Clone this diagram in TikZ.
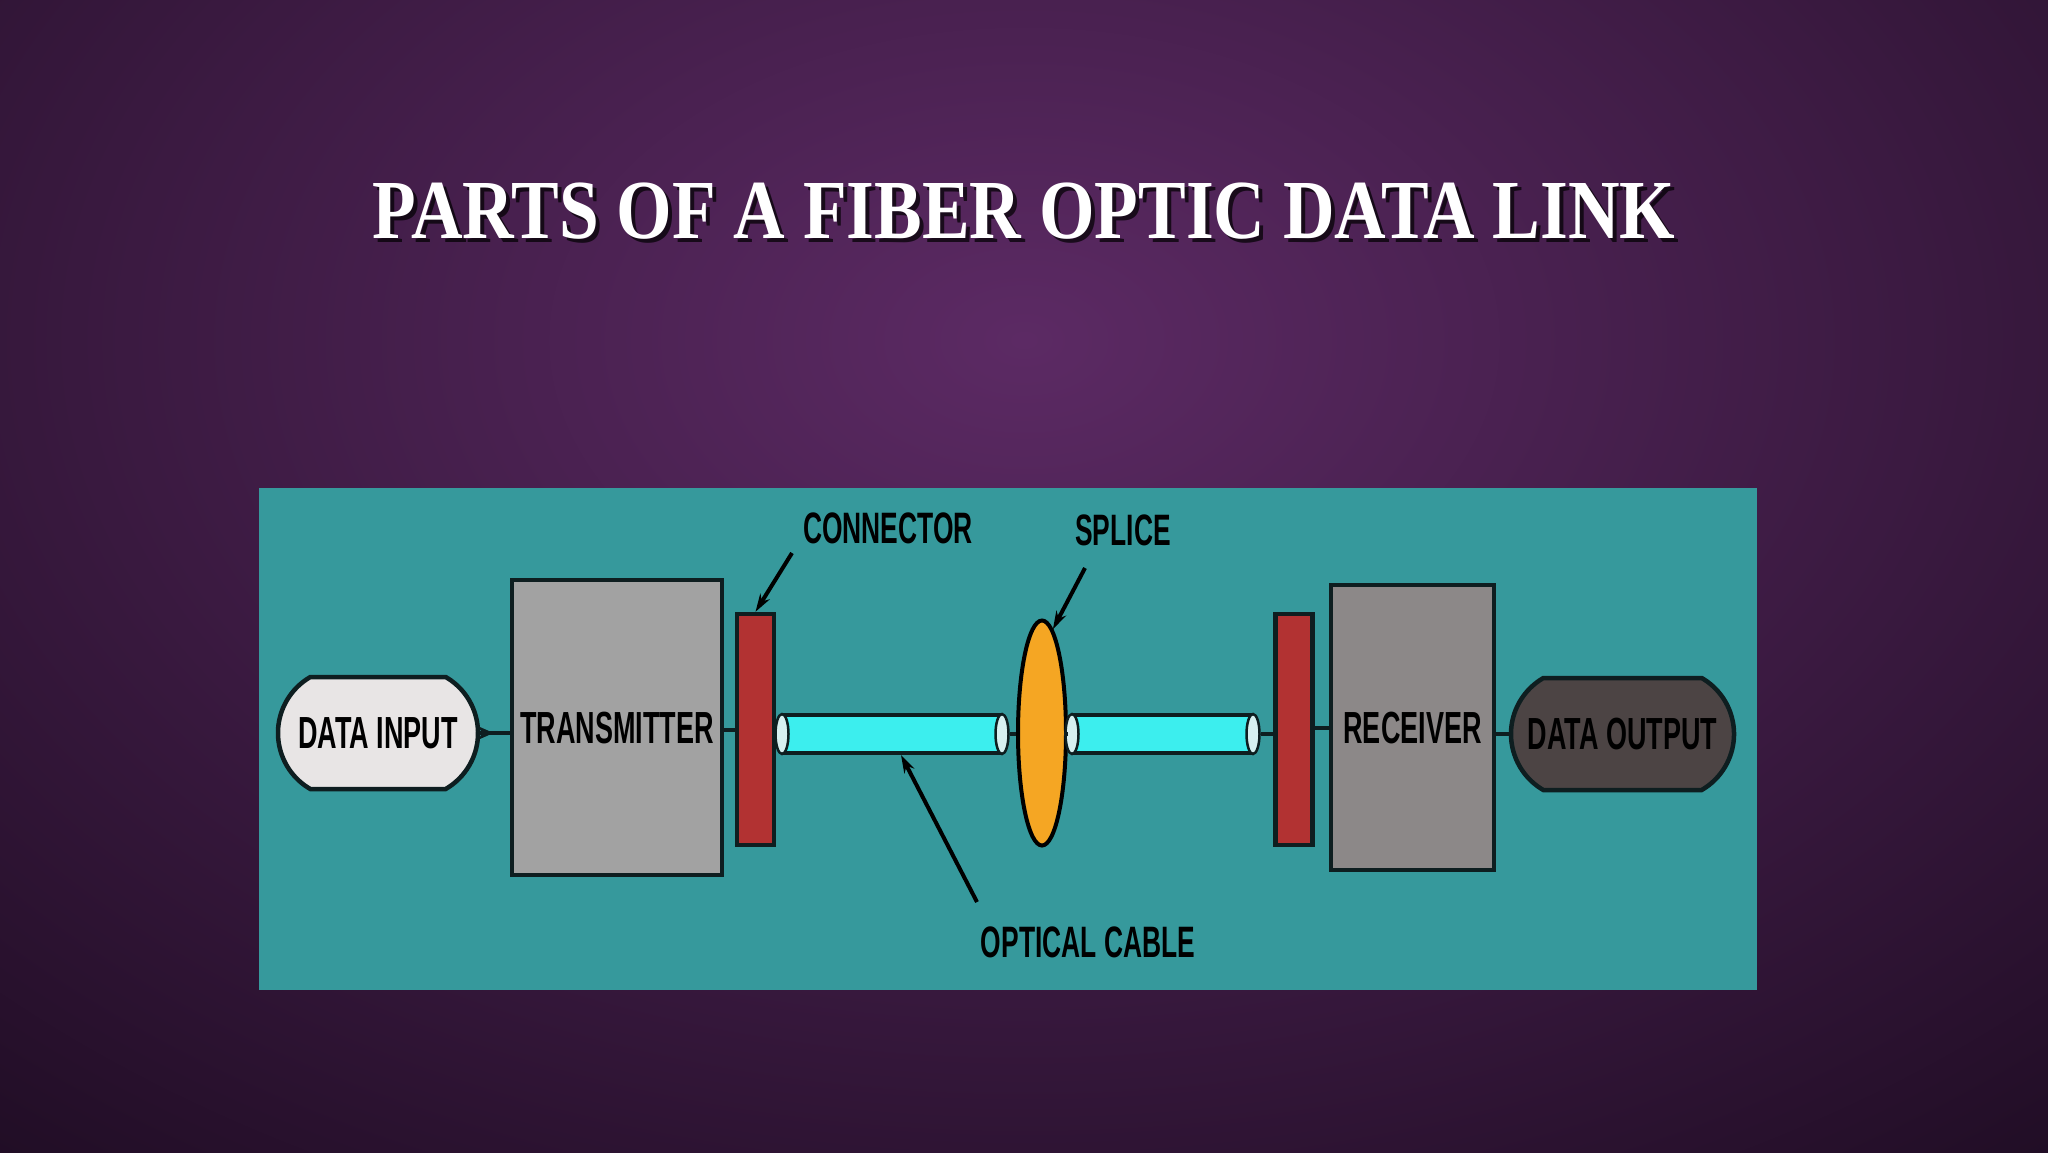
\documentclass[tikz,border=0pt]{standalone}
\usepackage{fontspec}
\usepackage{graphicx}
\setmainfont{Liberation Serif}
\newfontfamily\lblfont{Liberation Sans}
\usetikzlibrary{arrows.meta,shapes.geometric,shapes.misc,decorations.markings}
\definecolor{bgdark}{RGB}{22,8,26}
\definecolor{bglight}{RGB}{92,42,100}
\definecolor{panelteal}{RGB}{54,153,156}
\definecolor{lineblk}{RGB}{14,30,32}
\definecolor{txgray}{RGB}{162,162,162}
\definecolor{rxgray}{RGB}{140,136,136}
\definecolor{dinfill}{RGB}{232,229,229}
\definecolor{doutfill}{RGB}{76,68,68}
\definecolor{barred}{RGB}{178,50,50}
\definecolor{cabcyan}{RGB}{60,238,238}
\definecolor{capwhite}{RGB}{215,240,240}
\definecolor{splorange}{RGB}{245,166,35}
\newcommand\condtxt[1]{\scalebox{0.6}[1]{#1}}
\begin{document}
\begin{tikzpicture}[x=1pt,y=-1pt,
  outl/.style={draw=lineblk,line width=4.5pt},
  lbl/.style={font=\lblfont\bfseries\fontsize{44}{44}\selectfont,text=black,inner sep=0pt},
  boxtxt/.style={font=\lblfont\bfseries\fontsize{45}{45}\selectfont,text=black,inner sep=0pt},
  stadium/.style={rounded rectangle,rounded rectangle arc length=120,outl,inner sep=0pt},
  blockbox/.style={rectangle,outl,inner sep=0pt},
  bar/.style={rectangle,outl,fill=barred,minimum width=37,minimum height=231,inner sep=0pt},
  cable/.style={rectangle,draw=lineblk,line width=4pt,fill=cabcyan,minimum height=38,inner sep=0pt},
  endcap/.style={ellipse,draw=lineblk,line width=2.5pt,fill=capwhite,minimum width=13,minimum height=40,inner sep=0pt},
  wire/.style={draw=lineblk,line width=4pt},
  ptr/.style={draw=black,line width=4pt,-{Stealth[length=18pt,width=11pt]}}
]
\useasboundingbox (0,0) rectangle (2048,1152);
% background
\fill[bgdark] (0,0) rectangle (2048,1152);
\begin{scope}
\clip (0,0) rectangle (2048,1152);
\shade[inner color=bglight,outer color=bgdark] (1024,340) ellipse [x radius=1900,y radius=1250];
\end{scope}
% title
\node[font=\bfseries\fontsize{84}{84}\selectfont,text=black,opacity=0.7,inner sep=0pt] at (1028,215) {\scalebox{0.85}[1]{PARTS OF A FIBER OPTIC DATA LINK}};
\node (title) [font=\bfseries\fontsize{84}{84}\selectfont,text=white,inner sep=0pt] at (1024,211) {\scalebox{0.85}[1]{PARTS OF A FIBER OPTIC DATA LINK}};
% panel
\fill[panelteal] (259,488) rectangle (1757,990);
% blocks
\node (din) [stadium,fill=dinfill,minimum width=200,minimum height=112,boxtxt] at (378,733) {\condtxt{DATA INPUT}};
\node (tx) [blockbox,fill=txgray,minimum width=210,minimum height=295,boxtxt] at (617,727.5) {\condtxt{TRANSMITTER}};
\node (c1) [bar] at (755.5,729.5) {};
\node (cab1) [cable,minimum width=216] at (892,734) {};
\node (cab1l) [endcap] at (cab1.west) {};
\node (cab1r) [endcap] at (cab1.east) {};
\node (spl) [ellipse,draw=black,line width=4pt,fill=splorange,minimum width=48,minimum height=225,inner sep=0pt] at (1042,733) {};
\node (cab2) [cable,minimum width=177] at (1162.5,734) {};
\node (cab2l) [endcap] at (cab2.west) {};
\node (cab2r) [endcap] at (cab2.east) {};
\node (c2) [bar] at (1294,729.5) {};
\node (rx) [blockbox,fill=rxgray,minimum width=163,minimum height=285,boxtxt] at (1412.5,727.5) {\condtxt{RECEIVER}};
\node (dout) [stadium,fill=doutfill,minimum width=223,minimum height=112,boxtxt] at (1622.5,734) {\condtxt{DATA OUTPUT}};
% connections
\draw[wire,postaction={decorate},decoration={markings,mark=at position 0.45 with {\arrow{Stealth[length=16pt,width=14pt]}}}] (din.east) -- (din.east -| tx.west);
\draw[wire] (tx.east |- c1.west) -- (c1.west);
\draw[wire] (c1.east |- cab1l.west) -- (cab1l.west);
\draw[wire] (cab1r.east) -- (cab1r.east -| spl.west);
\draw[wire] (spl.east |- cab2l.west) -- (cab2l.west);
\draw[wire] (cab2r.east) -- (cab2r.east -| c2.west);
\draw[wire] (c2.east |- rx.west) -- (rx.west);
\draw[wire] (rx.east |- dout.west) -- (dout.west);
% labels
\node (conlbl) [lbl] at (888,528) {\condtxt{CONNECTOR}};
\node (spllbl) [lbl] at (1123,530) {\condtxt{SPLICE}};
\node (cablbl) [lbl] at (1088,942) {\condtxt{OPTICAL CABLE}};
\coordinate (conA) at (792,553);
\coordinate (splA) at (1085,568);
\coordinate (cabA) at (977,902);
\draw[ptr] (conA) -- (c1.north);
\draw[ptr] (splA) -- (spl.84);
\draw[ptr] (cabA) -- ([xshift=9pt]cab1.south);
\end{tikzpicture}
\end{document}
